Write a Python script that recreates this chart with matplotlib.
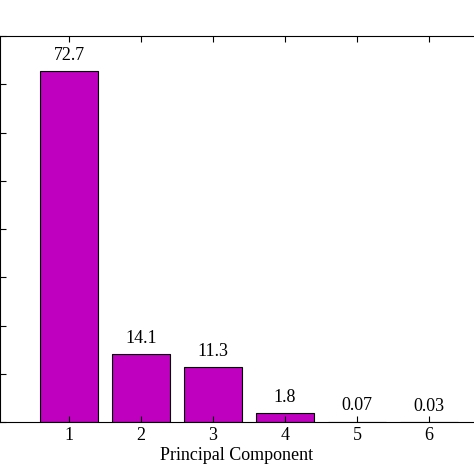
import matplotlib
matplotlib.use("Agg")
import matplotlib.pyplot as plt

components = [1, 2, 3, 4, 5, 6]
variance = [72.7, 14.1, 11.3, 1.8, 0.07, 0.03]
labels = ["72.7", "14.1", "11.3", "1.8", "0.07", "0.03"]

plt.rcParams['font.family'] = ['Liberation Serif']
fig = plt.figure(figsize=(4.74, 4.74), dpi=100)
H = 474
ax = fig.add_axes([0.0, (H - 422) / H, 1.0, (422 - 36) / H])
ax.bar(components, variance, width=0.8, color='#bf00bf', edgecolor='black', linewidth=0.8)
for x, v, t in zip(components, variance, labels):
    ax.text(x, v + 1.5, t, ha='center', va='bottom', fontsize=13)
ax.set_xlim(0.04, 6.625)
ax.set_ylim(0, 80)
ax.set_xticks(components)
ax.set_yticks(range(0, 81, 10))
ax.set_yticklabels([])
ax.tick_params(direction='in', top=True, right=False, labelsize=13, length=4)
ax.spines['right'].set_visible(False)
ax.set_xlabel("Principal Component", fontsize=13, labelpad=2)
fig.savefig("out.png", dpi=100)
